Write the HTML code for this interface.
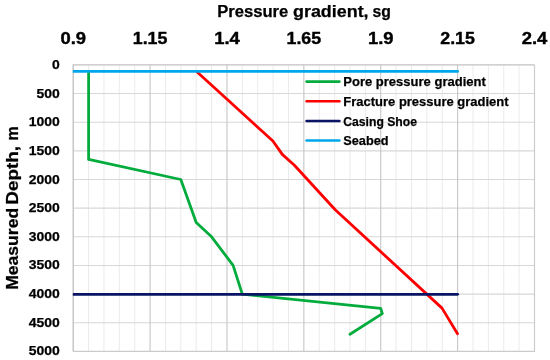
<!DOCTYPE html>
<html><head><meta charset="utf-8"><title>Pressure gradient chart</title>
<style>
html,body{margin:0;padding:0;background:#fff;}
svg{display:block;}
text{font-family:"Liberation Sans",sans-serif;font-weight:bold;fill:#000;stroke:#000;stroke-width:0.25px;stroke-linejoin:round;}
.xl{stroke-width:0.4px;}
</style></head><body>
<svg width="550" height="360" viewBox="0 0 550 360">
<rect width="550" height="360" fill="#ffffff"/>
<path d="M88.58 64.9V351.4M103.95 64.9V351.4M119.33 64.9V351.4M134.71 64.9V351.4M165.46 64.9V351.4M180.84 64.9V351.4M196.21 64.9V351.4M211.59 64.9V351.4M242.34 64.9V351.4M257.72 64.9V351.4M273.10 64.9V351.4M288.47 64.9V351.4M319.23 64.9V351.4M334.60 64.9V351.4M349.98 64.9V351.4M365.36 64.9V351.4M396.11 64.9V351.4M411.49 64.9V351.4M426.86 64.9V351.4M442.24 64.9V351.4M472.99 64.9V351.4M488.37 64.9V351.4M503.75 64.9V351.4M519.12 64.9V351.4" stroke="#ebebeb" stroke-width="1" fill="none"/>
<path d="M73.2 93.55H534.5M73.2 122.20H534.5M73.2 150.85H534.5M73.2 179.50H534.5M73.2 208.15H534.5M73.2 236.80H534.5M73.2 265.45H534.5M73.2 294.10H534.5M73.2 322.75H534.5" stroke="#d8d8d8" stroke-width="1.1" fill="none"/>
<path d="M150.08 64.9V351.4M226.97 64.9V351.4M303.85 64.9V351.4M380.73 64.9V351.4M457.62 64.9V351.4" stroke="#c6c6c6" stroke-width="1.1" fill="none"/>
<path d="M534.5 64.9V351.4H73.2" stroke="#cbcbcb" stroke-width="1.15" fill="none"/>
<path d="M73.2 351.4V64.9H534.5" stroke="#c1c1c1" stroke-width="1.35" fill="none"/>
<clipPath id="pa"><rect x="72.8" y="64.9" width="462.10" height="286.50"/></clipPath>
<g clip-path="url(#pa)">
<polyline points="88.6,71.9 88.6,159.4 180.8,179.5 196.2,222.5 211.6,236.8 233.1,265.4 242.3,294.1 380.7,308.4 382.3,313.6 350.0,334.2" stroke="#04ac3e" stroke-width="2.8" fill="none" stroke-linejoin="round" stroke-linecap="round"/>
<polyline points="197.4,72.2 272.9,141.0 282.3,154.4 294.4,165.2 335.2,209.8 442.0,308.1 457.5,333.75" stroke="#ff0000" stroke-width="2.8" fill="none" stroke-linejoin="round" stroke-linecap="round"/>
<line x1="73.2" y1="294.3" x2="457.6" y2="294.3" stroke="#0a1464" stroke-width="2.8" stroke-linecap="round"/>
<line x1="73.2" y1="71.4" x2="457.6" y2="71.4" stroke="#00a6ec" stroke-width="2.8" stroke-linecap="round"/>
</g>
<line x1="306.6" y1="81.6" x2="339.4" y2="81.6" stroke="#04ac3e" stroke-width="2.6" stroke-linecap="round"/>
<text x="343.3" y="86.20" font-size="13.5" textLength="142.5" lengthAdjust="spacingAndGlyphs">Pore pressure gradient</text>
<line x1="306.6" y1="101.3" x2="339.4" y2="101.3" stroke="#ff0000" stroke-width="2.6" stroke-linecap="round"/>
<text x="343.3" y="105.90" font-size="13.5" textLength="165.3" lengthAdjust="spacingAndGlyphs">Fracture pressure gradient</text>
<line x1="306.6" y1="121.0" x2="339.4" y2="121.0" stroke="#0a1464" stroke-width="2.6" stroke-linecap="round"/>
<text x="343.3" y="125.60" font-size="13.5" textLength="73.7" lengthAdjust="spacingAndGlyphs">Casing Shoe</text>
<line x1="306.6" y1="140.5" x2="339.4" y2="140.5" stroke="#00a6ec" stroke-width="2.6" stroke-linecap="round"/>
<text x="343.3" y="145.10" font-size="13.5" textLength="45.3" lengthAdjust="spacingAndGlyphs">Seabed</text>
<text class="xl" x="73.2" y="44.1" font-size="16.6" text-anchor="middle" textLength="25.6" lengthAdjust="spacingAndGlyphs">0.9</text>
<text class="xl" x="150.1" y="44.1" font-size="16.6" text-anchor="middle" textLength="34.6" lengthAdjust="spacingAndGlyphs">1.15</text>
<text class="xl" x="227.0" y="44.1" font-size="16.6" text-anchor="middle" textLength="25.6" lengthAdjust="spacingAndGlyphs">1.4</text>
<text class="xl" x="303.8" y="44.1" font-size="16.6" text-anchor="middle" textLength="34.6" lengthAdjust="spacingAndGlyphs">1.65</text>
<text class="xl" x="380.7" y="44.1" font-size="16.6" text-anchor="middle" textLength="25.6" lengthAdjust="spacingAndGlyphs">1.9</text>
<text class="xl" x="457.6" y="44.1" font-size="16.6" text-anchor="middle" textLength="34.6" lengthAdjust="spacingAndGlyphs">2.15</text>
<text class="xl" x="534.5" y="44.1" font-size="16.6" text-anchor="middle" textLength="25.6" lengthAdjust="spacingAndGlyphs">2.4</text>
<text x="59.8" y="68.9" font-size="12.8" text-anchor="end" textLength="7.75" lengthAdjust="spacingAndGlyphs">0</text>
<text x="59.8" y="97.6" font-size="12.8" text-anchor="end" textLength="23.25" lengthAdjust="spacingAndGlyphs">500</text>
<text x="59.8" y="126.2" font-size="12.8" text-anchor="end" textLength="31.0" lengthAdjust="spacingAndGlyphs">1000</text>
<text x="59.8" y="154.9" font-size="12.8" text-anchor="end" textLength="31.0" lengthAdjust="spacingAndGlyphs">1500</text>
<text x="59.8" y="183.5" font-size="12.8" text-anchor="end" textLength="31.0" lengthAdjust="spacingAndGlyphs">2000</text>
<text x="59.8" y="212.2" font-size="12.8" text-anchor="end" textLength="31.0" lengthAdjust="spacingAndGlyphs">2500</text>
<text x="59.8" y="240.8" font-size="12.8" text-anchor="end" textLength="31.0" lengthAdjust="spacingAndGlyphs">3000</text>
<text x="59.8" y="269.4" font-size="12.8" text-anchor="end" textLength="31.0" lengthAdjust="spacingAndGlyphs">3500</text>
<text x="59.8" y="298.1" font-size="12.8" text-anchor="end" textLength="31.0" lengthAdjust="spacingAndGlyphs">4000</text>
<text x="59.8" y="326.8" font-size="12.8" text-anchor="end" textLength="31.0" lengthAdjust="spacingAndGlyphs">4500</text>
<text x="59.8" y="355.4" font-size="12.8" text-anchor="end" textLength="31.0" lengthAdjust="spacingAndGlyphs">5000</text>
<text x="217.2" y="17" font-size="17.2" textLength="71.1" lengthAdjust="spacingAndGlyphs">Pressure</text>
<text x="293.0" y="17" font-size="17.2" textLength="75.6" lengthAdjust="spacingAndGlyphs">gradient,</text>
<text x="372.6" y="17" font-size="17.2" textLength="18.4" lengthAdjust="spacingAndGlyphs">sg</text>
<g transform="translate(17.5 0) rotate(-90)">
<text x="-289.75" y="0" font-size="17.2" textLength="81.85" lengthAdjust="spacingAndGlyphs">Measured</text>
<text x="-204.7" y="0" font-size="17.2" textLength="58.8" lengthAdjust="spacingAndGlyphs">Depth,</text>
<text x="-140.4" y="0" font-size="17.2" textLength="14.15" lengthAdjust="spacingAndGlyphs">m</text>
</g>
</svg>
</body></html>
